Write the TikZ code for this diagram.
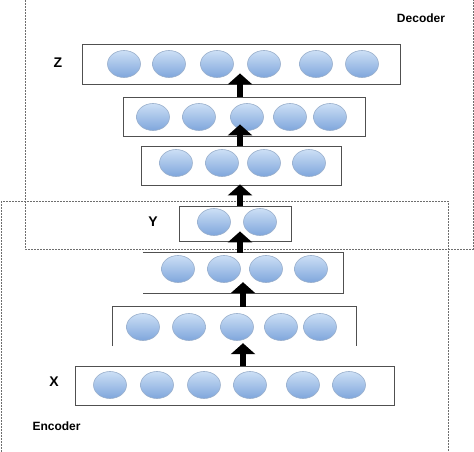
\documentclass[tikz,border=0pt]{standalone}
\usepackage{fontspec}
\setmainfont{Liberation Sans}
\usetikzlibrary{arrows.meta,shapes.geometric}

\definecolor{unittop}{HTML}{CCDFF5}
\definecolor{unitbot}{HTML}{7FA6DC}
\definecolor{unitedge}{HTML}{98AECB}
\definecolor{boxgray}{HTML}{505050}
\definecolor{dashgray}{HTML}{6E6E6E}

\tikzset{
  unit/.style={ellipse, minimum width=33pt, minimum height=27pt, inner sep=0pt,
    draw=unitedge, line width=0.6pt, top color=unittop, bottom color=unitbot},
  layer/.style={rectangle, draw=boxgray, line width=0.9pt, inner sep=0pt},
  boxline/.style={draw=boxgray, line width=0.9pt},
  region/.style={draw=dashgray, line width=0.7pt, dash pattern=on 2pt off 1pt},
  flow/.style={line width=6pt, -{Triangle[width=24pt,length=11pt]}},
  tag/.style={font=\bfseries\fontsize{14}{16}\selectfont},
  side/.style={font=\bfseries\fontsize{12}{14}\selectfont}
}

\begin{document}
\begin{tikzpicture}[x=1pt,y=-1pt]
						\useasboundingbox (0,0) rectangle (474,452);
						% encoder / decoder regions
						\draw[region] (25,-3) rectangle (473,249);
						\draw[region] (1,201) rectangle (448,455);
						\node[side] (declabel) at (421,18) {Decoder};
						\node[side, anchor=west] (enclabel) at (29,426) {Encoder};
						% layers
						\node[layer, minimum width=318pt, minimum height=40pt] (zbox) at (241,64) {};
						\node[layer, minimum width=242pt, minimum height=39pt] (dec5) at (244,116.5) {};
						\node[layer, minimum width=200pt, minimum height=39pt] (dec4) at (241,165.5) {};
						\node[layer, minimum width=112pt, minimum height=35pt] (ybox) at (235,223.5) {};
						\node[minimum width=200pt, minimum height=40pt, inner sep=0pt] (enc4) at (243,273) {};
						\node[minimum width=243pt, minimum height=39pt, inner sep=0pt] (enc5) at (234.5,326.5) {};
						\node[layer, minimum width=319pt, minimum height=39pt] (xbox) at (234.5,385.5) {};
						\draw[boxline] (enc4.north west) -- (enc4.north east) -- (enc4.south east) -- (enc4.south west);
						\draw[boxline] (enc5.south west) -- (enc5.north west) -- (enc5.north east) -- (enc5.south east);
						% units
						\foreach \x in {124,169,217,264,316,362} \node[unit] at (\x,64) {};
						\foreach \x in {153,199,247,290,330} \node[unit] at (\x,117) {};
						\foreach \x in {176,222,264,309} \node[unit] at (\x,163) {};
						\foreach \x in {214,260} \node[unit] at (\x,222) {};
						\foreach \x in {178,224,266,311} \node[unit] at (\x,269) {};
						\foreach \x in {143,189,237,281,320} \node[unit] at (\x,327) {};
						\foreach \x in {110,157,204,250,303,349} \node[unit] at (\x,385) {};
						\node[tag] (zlabel) at (58,63) {Z};
						\node[tag] (ylabel) at (153,222) {Y};
						\node[tag] (xlabel) at (54,382) {X};
						% arrows
						\draw[flow] ([xshift=-4pt]dec5.north) -- ([xshift=-1pt,yshift=11pt]zbox.south);
						\draw[flow] ([xshift=-1pt]dec4.north) -- ([xshift=-4pt,yshift=12pt]dec5.south);
						\draw[flow] ([xshift=5pt]ybox.north) -- ([xshift=-1pt,yshift=1pt]dec4.south);
						\draw[flow] ([xshift=-3pt]enc4.north) -- ([xshift=5pt,yshift=10pt]ybox.south);
						\draw[flow] ([xshift=8.5pt]enc5.north) -- ([yshift=11pt]enc4.south);
						\draw[flow] ([xshift=8.5pt]xbox.north) -- ([xshift=8.5pt,yshift=3pt]enc5.south);
					\end{tikzpicture}
\end{document}
